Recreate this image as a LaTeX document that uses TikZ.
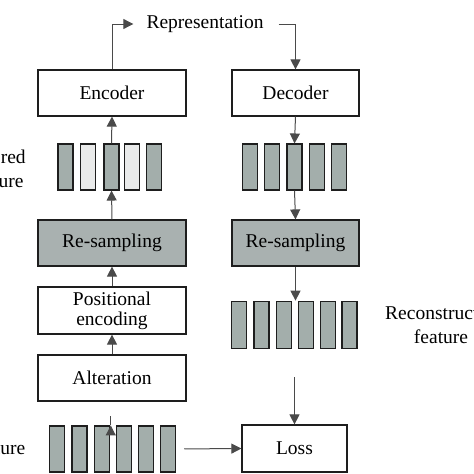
\documentclass[tikz,border=0pt]{standalone}
\usepackage{fontspec}
\setmainfont{Liberation Serif}
\usepackage{tikz}
\usetikzlibrary{arrows.meta, positioning, calc}
\definecolor{inkgray}{HTML}{1E1E1E}
\definecolor{wiregray}{HTML}{4A4A4A}
\definecolor{barsage}{HTML}{A3AEAB}
\definecolor{barpale}{HTML}{E9EAEA}
\definecolor{rsgray}{HTML}{A9B1B0}
\tikzset{
  blk/.style={rectangle, draw=inkgray, line width=1.2pt, fill=white,
    font=\fontsize{19.5}{23}\selectfont, minimum width=148pt, minimum height=46pt,
    align=center, inner sep=2pt},
  blk/rs/.style={rectangle, draw=inkgray, line width=1.2pt, fill=rsgray,
    font=\fontsize{19.5}{23}\selectfont, minimum width=148pt, minimum height=46pt,
    align=center, inner sep=2pt},
  tok/.style={rectangle, draw=inkgray, line width=1.1pt, fill=barsage,
    minimum width=15pt, minimum height=46pt, inner sep=0pt},
  tok/lt/.style={rectangle, draw=inkgray, line width=1.1pt, fill=barpale,
    minimum width=15pt, minimum height=46pt, inner sep=0pt},
  ar/.style={-{Triangle[length=10pt,width=10pt]}, draw=wiregray, line width=1pt},
  lb/.style={font=\fontsize{19.5}{24}\selectfont, align=center, inner sep=3pt},
}

\begin{document}
\begin{tikzpicture}[x=1pt, y=-1pt]
\useasboundingbox (0,0) rectangle (474,474);

\node[lb] (Rep) at (205,24) {Representation};

\node[blk] (Enc) at (112,93) {Encoder};
\node[blk, minimum width=127pt] (Dec) at (295.5,93) {Decoder};

\node[lb] (AltLbl) at (-3.5,169) {Altered\\feature};
\node[tok]    (E1) at (65.5,167) {};
\node[tok/lt] (E2) at (88,167) {};
\node[tok]    (E3) at (111.5,167) {};
\node[tok/lt] (E4) at (132,167) {};
\node[tok]    (E5) at (154,167) {};

\node[tok] (D1) at (250,167) {};
\node[tok] (D2) at (272,167) {};
\node[tok] (D3) at (294.5,167) {};
\node[tok] (D4) at (317,167) {};
\node[tok] (D5) at (339,167) {};

\node[blk/rs] (RsL) at (112,243) {Re-sampling};
\node[blk/rs, minimum width=127pt] (RsR) at (295.5,243) {Re-sampling};

\node[blk, minimum height=47pt] (Pos) at (112,310.5) {Positional\\[-3pt]encoding};

\node[tok, minimum height=47pt] (R1) at (239.3,324.7) {};
\node[tok, minimum height=47pt] (R2) at (261.5,324.7) {};
\node[tok, minimum height=47pt] (R3) at (283.8,324.7) {};
\node[tok, minimum height=47pt] (R4) at (306.2,324.7) {};
\node[tok, minimum height=47pt] (R5) at (327.8,324.7) {};
\node[tok, minimum height=47pt] (R6) at (349.5,324.7) {};
\node[lb] (RecLbl) at (441,325) {Reconstructed\\feature};

\node[blk] (Alt) at (112,378) {Alteration};

\node[lb, anchor=east] (InLbl) at (28.5,450) {Input feature};
\node[tok] (I1) at (56.8,449) {};
\node[tok] (I2) at (79.5,449) {};
\node[tok] (I3) at (101.7,449) {};
\node[tok] (I4) at (123.8,449) {};
\node[tok] (I5) at (145.8,449) {};
\node[tok] (I6) at (168.2,449) {};

\node[blk, minimum width=105pt, minimum height=47pt] (Loss) at (294.5,448.5) {Loss};

\coordinate (RecOut) at (294.5,377);

\draw[ar, shorten >=10pt] (Enc.north) |- (Rep.west);
\draw[ar, shorten <=12pt] (Rep.east) -| (Dec.north);

\draw[ar] (E3.north) -- (Enc.south);
\draw[ar] (RsL.north) -- (E3.south);
\draw[ar] (Pos.north) -- (RsL.south);
\draw[ar] (Alt.north) -- (Pos.south);
\draw[ar] ($(I3.north east)+(1,0)$) -- ($(I3.north east)+(1,0)$ |- Alt.south);
\draw[ar, shorten <=8pt] (I6.east) -- (Loss.west);

\draw[ar] (Dec.south) -- (D3.north);
\draw[ar] (D3.south) -- (RsR.north);
\draw[ar] (RsR.south) -- (RsR.south |- R4.north);
\draw[ar] (RecOut) -- (Loss.north);

\end{tikzpicture}
\end{document}
